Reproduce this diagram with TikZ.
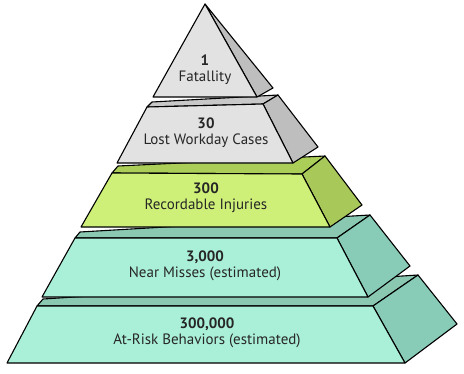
\documentclass[tikz,border=0pt]{standalone}
\usepackage{fontspec}
\setmainfont{PT Sans}
\definecolor{grayfront}{RGB}{226,226,226}
\definecolor{grayside}{RGB}{190,190,190}
\definecolor{grayledge}{RGB}{200,200,200}
\definecolor{greenfront}{RGB}{206,240,120}
\definecolor{greenside}{RGB}{168,200,90}
\definecolor{greenledge}{RGB}{170,206,88}
\definecolor{tealfront}{RGB}{170,240,216}
\definecolor{tealside}{RGB}{136,204,184}
\definecolor{tealledge}{RGB}{138,200,178}
\tikzset{face/.style={draw=black,line width=1.1pt,line join=round},
  tierlabel/.style={align=center,text=black!85,font=\fontsize{15}{16}\selectfont}}

\begin{document}
\begin{tikzpicture}[x=1pt,y=-1pt]
\useasboundingbox (0,0) rectangle (464,373);
% at-risk behaviors
\filldraw[face,fill=tealledge] (37,306) -- (43,299) -- (418,275) -- (373,306) -- cycle;
\filldraw[face,fill=tealside] (373,306) -- (418,275) -- (457,324) -- (405,363) -- cycle;
\filldraw[face,fill=tealfront] (37,306) -- (373,306) -- (405,363) -- (7,363) -- cycle;
\node[tierlabel] (behaviors) at (207,333) {\textbf{300,000}\\At-Risk Behaviors (estimated)};
% near misses
\filldraw[face,fill=tealledge] (75,238) -- (80,232) -- (370,215) -- (337,238) -- cycle;
\filldraw[face,fill=tealside] (337,238) -- (370,215) -- (410,266) -- (368,297) -- cycle;
\filldraw[face,fill=tealfront] (75,238) -- (337,238) -- (368,297) -- (42,297) -- cycle;
\node[tierlabel] (misses) at (205,266) {\textbf{3,000}\\Near Misses (estimated)};
% recordable injuries
\filldraw[face,fill=greenledge] (112,173) -- (118,166) -- (325,156) -- (302,174) -- cycle;
\filldraw[face,fill=greenside] (302,174) -- (325,156) -- (362,205) -- (330,227) -- cycle;
\filldraw[face,fill=greenfront] (112,173) -- (302,174) -- (330,227) -- (81,227) -- cycle;
\node[tierlabel] (injuries) at (206,198) {\textbf{300}\\Recordable Injuries};
% lost workday cases
\filldraw[face,fill=grayledge] (147,107) -- (152,102) -- (278,95) -- (263,104) -- cycle;
\filldraw[face,fill=grayside] (263,104) -- (278,95) -- (318,147) -- (293,163) -- cycle;
\filldraw[face,fill=grayfront] (147,107) -- (263,104) -- (293,163) -- (117,163) -- cycle;
\node[tierlabel] (workday) at (206,133) {\textbf{30}\\Lost Workday Cases};
% fatality
\filldraw[face,fill=grayside] (205,4) -- (273,88) -- (257,97) -- cycle;
\filldraw[face,fill=grayfront] (205,4) -- (257,97) -- (153,97) -- cycle;
\node[tierlabel] (fatality) at (205,70) {\textbf{1}\\Fatallity};
\end{tikzpicture}
\end{document}
